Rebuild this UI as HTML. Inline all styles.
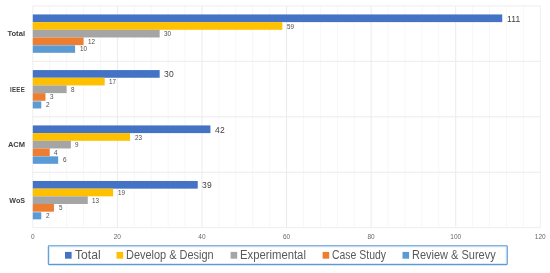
<!DOCTYPE html>
<html><head><meta charset="utf-8"><title>chart</title>
<style>
html,body{margin:0;padding:0;background:#fff;}
body{width:550px;height:273px;position:relative;overflow:hidden;font-family:"Liberation Sans",sans-serif;}
.a{position:absolute;}
svg{position:absolute;left:0;top:0;}
.t{position:absolute;white-space:nowrap;line-height:1;color:#595959;}
.cat{font-weight:bold;font-size:7.5px;color:#404040;text-align:right;width:40px;transform-origin:100% 50%;}
.big{font-size:8.5px;color:#404040;letter-spacing:0.15px;transform:scaleX(1.002);transform-origin:0 50%;}
.sm{font-size:6.3px;color:#4c4c4c;transform:scaleX(1.002);transform-origin:0 50%;}
.ax{font-size:6.5px;color:#686868;text-align:center;width:30px;}
.lg{font-size:12px;color:#595959;transform-origin:0 50%;}
</style></head><body>

<svg width="550" height="273" viewBox="0 0 550 273">
<rect x="32.30" y="5.90" width="1" height="221.80" fill="#eeeeee"/>
<rect x="49.22" y="5.90" width="1" height="221.80" fill="#f7f7f7"/>
<rect x="66.13" y="5.90" width="1" height="221.80" fill="#f7f7f7"/>
<rect x="83.05" y="5.90" width="1" height="221.80" fill="#f7f7f7"/>
<rect x="99.97" y="5.90" width="1" height="221.80" fill="#f7f7f7"/>
<rect x="116.88" y="5.90" width="1" height="221.80" fill="#ebebeb"/>
<rect x="133.80" y="5.90" width="1" height="221.80" fill="#f7f7f7"/>
<rect x="150.72" y="5.90" width="1" height="221.80" fill="#f7f7f7"/>
<rect x="167.63" y="5.90" width="1" height="221.80" fill="#f7f7f7"/>
<rect x="184.55" y="5.90" width="1" height="221.80" fill="#f7f7f7"/>
<rect x="201.47" y="5.90" width="1" height="221.80" fill="#ebebeb"/>
<rect x="218.38" y="5.90" width="1" height="221.80" fill="#f7f7f7"/>
<rect x="235.30" y="5.90" width="1" height="221.80" fill="#f7f7f7"/>
<rect x="252.22" y="5.90" width="1" height="221.80" fill="#f7f7f7"/>
<rect x="269.13" y="5.90" width="1" height="221.80" fill="#f7f7f7"/>
<rect x="286.05" y="5.90" width="1" height="221.80" fill="#ebebeb"/>
<rect x="302.97" y="5.90" width="1" height="221.80" fill="#f7f7f7"/>
<rect x="319.88" y="5.90" width="1" height="221.80" fill="#f7f7f7"/>
<rect x="336.80" y="5.90" width="1" height="221.80" fill="#f7f7f7"/>
<rect x="353.72" y="5.90" width="1" height="221.80" fill="#f7f7f7"/>
<rect x="370.63" y="5.90" width="1" height="221.80" fill="#ebebeb"/>
<rect x="387.55" y="5.90" width="1" height="221.80" fill="#f7f7f7"/>
<rect x="404.47" y="5.90" width="1" height="221.80" fill="#f7f7f7"/>
<rect x="421.38" y="5.90" width="1" height="221.80" fill="#f7f7f7"/>
<rect x="438.30" y="5.90" width="1" height="221.80" fill="#f7f7f7"/>
<rect x="455.22" y="5.90" width="1" height="221.80" fill="#ebebeb"/>
<rect x="472.13" y="5.90" width="1" height="221.80" fill="#f7f7f7"/>
<rect x="489.05" y="5.90" width="1" height="221.80" fill="#f7f7f7"/>
<rect x="505.97" y="5.90" width="1" height="221.80" fill="#f7f7f7"/>
<rect x="522.88" y="5.90" width="1" height="221.80" fill="#f7f7f7"/>
<rect x="539.80" y="5.90" width="1" height="221.80" fill="#eeeeee"/>
<rect x="32.80" y="5.40" width="507.50" height="1" fill="#eeeeee"/>
<rect x="32.80" y="60.85" width="507.50" height="1" fill="#ebebeb"/>
<rect x="32.80" y="116.30" width="507.50" height="1" fill="#ebebeb"/>
<rect x="32.80" y="171.75" width="507.50" height="1" fill="#ebebeb"/>
<rect x="32.80" y="227.20" width="507.50" height="1" fill="#eeeeee"/>
<rect x="32.80" y="14.43" width="469.44" height="7.68" fill="#4472C4"/>
<rect x="32.80" y="22.11" width="249.52" height="7.68" fill="#FFC000"/>
<rect x="32.80" y="29.79" width="126.87" height="7.68" fill="#A5A5A5"/>
<rect x="32.80" y="37.47" width="50.75" height="7.68" fill="#ED7D31"/>
<rect x="32.80" y="45.34" width="42.29" height="7.48" fill="#5B9BD5"/>
<rect x="32.80" y="70.08" width="126.87" height="7.68" fill="#4472C4"/>
<rect x="32.80" y="77.75" width="71.90" height="7.68" fill="#FFC000"/>
<rect x="32.80" y="85.44" width="33.83" height="7.68" fill="#A5A5A5"/>
<rect x="32.80" y="93.12" width="12.69" height="7.68" fill="#ED7D31"/>
<rect x="32.80" y="101.39" width="8.46" height="7.08" fill="#5B9BD5"/>
<rect x="32.80" y="125.42" width="177.62" height="7.68" fill="#4472C4"/>
<rect x="32.80" y="133.10" width="97.27" height="7.68" fill="#FFC000"/>
<rect x="32.80" y="140.78" width="38.06" height="7.68" fill="#A5A5A5"/>
<rect x="32.80" y="148.47" width="16.92" height="7.68" fill="#ED7D31"/>
<rect x="32.80" y="156.34" width="25.37" height="7.48" fill="#5B9BD5"/>
<rect x="32.80" y="180.97" width="164.94" height="7.68" fill="#4472C4"/>
<rect x="32.80" y="188.66" width="80.35" height="7.68" fill="#FFC000"/>
<rect x="32.80" y="196.33" width="54.98" height="7.68" fill="#A5A5A5"/>
<rect x="32.80" y="204.01" width="21.15" height="7.68" fill="#ED7D31"/>
<rect x="32.80" y="212.29" width="8.46" height="7.08" fill="#5B9BD5"/>
<rect x="65" y="251.9" width="6.6" height="6.8" fill="#4472C4"/>
<rect x="116.5" y="251.9" width="6.6" height="6.8" fill="#FFC000"/>
<rect x="230.6" y="251.9" width="6.6" height="6.8" fill="#A5A5A5"/>
<rect x="322.6" y="251.9" width="6.6" height="6.8" fill="#ED7D31"/>
<rect x="402.5" y="251.9" width="6.6" height="6.8" fill="#5B9BD5"/>
<rect x="49.45" y="246.8" width="456.7" height="16.75" fill="none" stroke="#dbe8f6" stroke-width="1"/>
<rect x="48.35" y="245.7" width="458.9" height="18.95" rx="0.8" fill="none" stroke="#5B9BD5" stroke-width="1.15"/>
</svg>
<div class="t big" style="left:506.84px;top:15px">111</div>
<div class="t sm" style="left:286.92px;top:24px">59</div>
<div class="t sm" style="left:164.27px;top:31px">30</div>
<div class="t sm" style="left:88.15px;top:39px">12</div>
<div class="t sm" style="left:79.69px;top:46px">10</div>
<div class="t cat" style="left:-15.20px;top:30.23px;transform:scaleX(1.015)">Total</div>
<div class="t big" style="left:164.27px;top:70px">30</div>
<div class="t sm" style="left:109.30px;top:79px">17</div>
<div class="t sm" style="left:71.23px;top:87px">8</div>
<div class="t sm" style="left:50.09px;top:94px">3</div>
<div class="t sm" style="left:45.86px;top:102px">2</div>
<div class="t cat" style="left:-15.20px;top:85.67px;transform:scaleX(0.81);letter-spacing:0.35px;margin-left:0.3px">IEEE</div>
<div class="t big" style="left:215.02px;top:126px">42</div>
<div class="t sm" style="left:134.67px;top:135px">23</div>
<div class="t sm" style="left:75.46px;top:142px">9</div>
<div class="t sm" style="left:54.32px;top:150px">4</div>
<div class="t sm" style="left:62.77px;top:157px">6</div>
<div class="t cat" style="left:-15.20px;top:141.12px;transform:scaleX(1.001)">ACM</div>
<div class="t big" style="left:202.34px;top:181px">39</div>
<div class="t sm" style="left:117.75px;top:190px">19</div>
<div class="t sm" style="left:92.38px;top:198px">13</div>
<div class="t sm" style="left:58.55px;top:205px">5</div>
<div class="t sm" style="left:45.86px;top:213px">2</div>
<div class="t cat" style="left:-15.20px;top:196.57px;transform:scaleX(0.95)">WoS</div>
<div class="t ax" style="left:17.80px;top:234px">0</div>
<div class="t ax" style="left:102.38px;top:234px">20</div>
<div class="t ax" style="left:186.97px;top:234px">40</div>
<div class="t ax" style="left:271.55px;top:234px">60</div>
<div class="t ax" style="left:356.13px;top:234px">80</div>
<div class="t ax" style="left:440.72px;top:234px">100</div>
<div class="t ax" style="left:525.30px;top:234px">120</div>
<div class="t lg" style="left:74.7px;top:249.3px;transform:scaleX(1.01)">Total</div>
<div class="t lg" style="left:125.8px;top:249.3px;transform:scaleX(0.913)">Develop &amp; Design</div>
<div class="t lg" style="left:240.0px;top:249.3px;transform:scaleX(0.941)">Experimental</div>
<div class="t lg" style="left:331.8px;top:249.3px;transform:scaleX(0.871)">Case Study</div>
<div class="t lg" style="left:411.8px;top:249.3px;transform:scaleX(0.916)">Review &amp; Surevy</div>
</body></html>
